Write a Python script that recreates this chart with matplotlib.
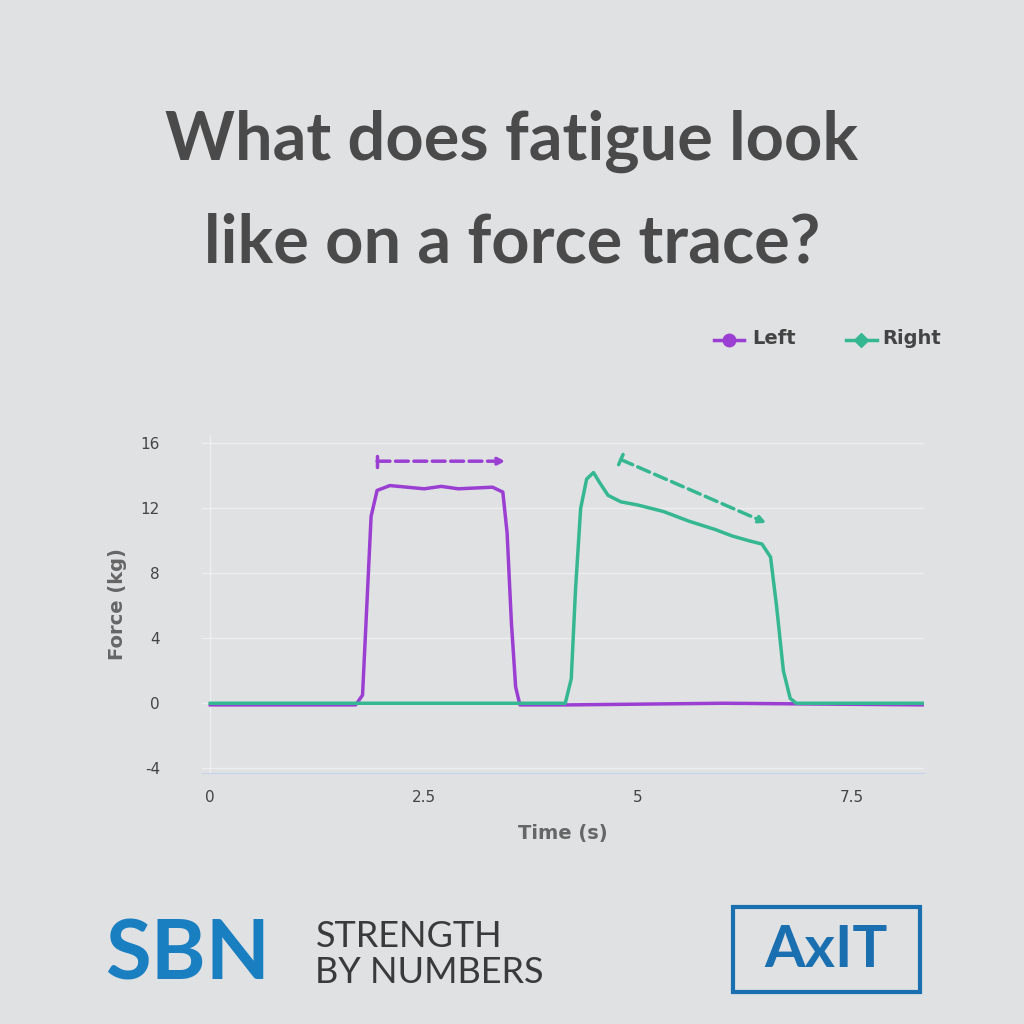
import matplotlib
matplotlib.use("Agg")
import matplotlib.pyplot as plt
import numpy as np
plt.rcParams["axes.unicode_minus"] = False

left_t = [0, 1.7, 1.78, 1.83, 1.88, 1.95, 2.1, 2.3, 2.5, 2.7, 2.9, 3.1, 3.3, 3.42, 3.47, 3.52, 3.57, 3.62, 4.2, 6.0, 8.34]
left_f = [-0.1, -0.1, 0.5, 6.0, 11.5, 13.1, 13.4, 13.3, 13.2, 13.35, 13.2, 13.25, 13.3, 13.0, 10.5, 5.0, 1.0, -0.1, -0.1, 0.0, -0.1]
right_t = [0, 4.15, 4.22, 4.27, 4.33, 4.4, 4.48, 4.55, 4.65, 4.8, 5.0, 5.3, 5.6, 5.9, 6.1, 6.3, 6.45, 6.55, 6.62, 6.7, 6.78, 6.85, 8.34]
right_f = [0.0, 0.0, 1.5, 7.0, 12.0, 13.8, 14.2, 13.6, 12.8, 12.4, 12.2, 11.8, 11.2, 10.7, 10.3, 10.0, 9.8, 9.0, 6.0, 2.0, 0.3, 0.0, 0.0]
xticks = [0, 2.5, 5, 7.5]
xtick_labels = ["0", "2.5", "5", "7.5"]
yticks = [-4, 0, 4, 8, 12, 16]

bg = "#e0e1e3"
purple = "#9b3fd3"
green = "#35b891"
fig = plt.figure(figsize=(10.24, 10.24), dpi=100, facecolor=bg)
ax = fig.add_axes([0.197, 0.245, 0.705, 0.330], facecolor=bg)
ax.plot(left_t, left_f, color=purple, lw=2.5)
ax.plot(right_t, right_f, color=green, lw=2.5)
ax.set_xlim(-0.1, 8.34)
ax.set_ylim(-4.3, 16.5)
ax.set_xticks(xticks, xtick_labels)
ax.set_yticks(yticks)
ax.grid(axis="y", color="#eeeeee", lw=1)
ax.axvline(0, color="#eeeeee", lw=1, zorder=0)
for s in ["top", "right", "left"]:
    ax.spines[s].set_visible(False)
ax.spines["bottom"].set_color("#c5d3ea")
ax.tick_params(length=0, labelsize=11, colors="#444444", pad=12)
ax.tick_params(axis="y", pad=30)
ax.set_xlabel("Time (s)", fontsize=14, color="#666666", fontweight="bold", labelpad=14)
ax.set_ylabel("Force (kg)", fontsize=14, color="#666666", fontweight="bold", labelpad=10)

ax.annotate("", xy=(3.45, 14.9), xytext=(1.95, 14.9),
            arrowprops=dict(arrowstyle="]->,widthA=0.4,lengthA=0", color=purple, lw=2.5, ls="--", shrinkA=0, shrinkB=0))
ax.annotate("", xy=(6.5, 11.1), xytext=(4.8, 15.0),
            arrowprops=dict(arrowstyle="]->,widthA=0.4,lengthA=0", color=green, lw=2.5, ls="--", shrinkA=0, shrinkB=0))

fig.text(0.5, 0.862, "What does fatigue look", ha="center", va="center", fontsize=48, color="#4a4a4a", fontweight="bold", family="Lato")
fig.text(0.5, 0.762, "like on a force trace?", ha="center", va="center", fontsize=48, color="#4a4a4a", fontweight="bold", family="Lato")

# legend
fig.lines.append(plt.Line2D([0.697, 0.727], [0.668, 0.668], color=purple, lw=2.5, transform=fig.transFigure))
fig.lines.append(plt.Line2D([0.712], [0.668], color=purple, marker="o", ms=9, transform=fig.transFigure))
fig.text(0.735, 0.669, "Left", va="center", fontsize=14, color="#444444", fontweight="bold")
fig.lines.append(plt.Line2D([0.826, 0.856], [0.668, 0.668], color=green, lw=2.5, transform=fig.transFigure))
fig.lines.append(plt.Line2D([0.841], [0.668], color=green, marker="D", ms=7, transform=fig.transFigure))
fig.text(0.862, 0.669, "Right", va="center", fontsize=14, color="#444444", fontweight="bold")

# logos
fig.text(0.103, 0.066, "SBN", fontsize=60, fontweight="bold", color="#1a7fc0", va="center", family="Lato")
fig.text(0.308, 0.085, "STRENGTH", fontsize=26, color="#3a3a3a", va="center", family="Lato")
fig.text(0.308, 0.050, "BY NUMBERS", fontsize=26, color="#3a3a3a", va="center", family="Lato")
fig.patches.append(plt.Rectangle((0.716, 0.031), 0.182, 0.083, fill=False, ec="#1a6fb0", lw=3, transform=fig.transFigure))
fig.text(0.807, 0.072, "AxIT", fontsize=42, fontweight="bold", color="#1a6fb0", ha="center", va="center", family="Lato")

fig.savefig("out.png", dpi=100, facecolor=bg)
